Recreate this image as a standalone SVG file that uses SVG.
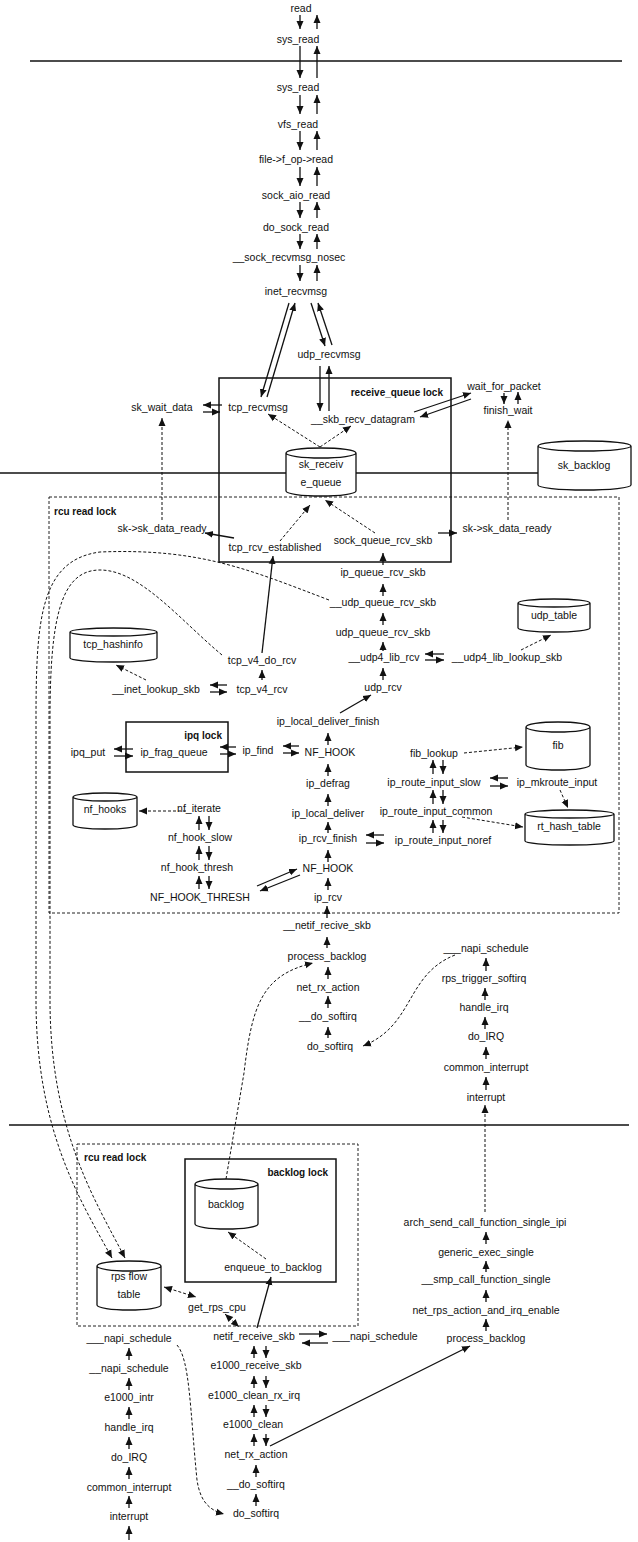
<svg xmlns="http://www.w3.org/2000/svg" width="638" height="1542" viewBox="0 0 638 1542">
<style>
text{font-family:"Liberation Sans",Arial,sans-serif;font-size:10.5px;fill:#111;text-anchor:middle}
.b{font-weight:bold;font-size:10px}
.l{text-anchor:start}.e{text-anchor:end}
.s{stroke:#111;stroke-width:1.3;fill:none}
.a{stroke:#111;stroke-width:1.3;fill:none;marker-end:url(#m)}
.d{stroke:#111;stroke-width:1;fill:none;stroke-dasharray:3,2;marker-end:url(#m)}
.dd{stroke:#111;stroke-width:1;fill:none;stroke-dasharray:3,2;marker-end:url(#m);marker-start:url(#ms)}
.box{fill:none;stroke:#111;stroke-width:1.5}
.dbox{fill:none;stroke:#222;stroke-width:1;stroke-dasharray:3,2}
.cyl{fill:#fff;stroke:#111;stroke-width:1.3}
</style>
<defs>
<marker id="m" markerUnits="userSpaceOnUse" markerWidth="9" markerHeight="8" refX="8" refY="4" orient="auto"><path d="M0,0.5 L8,4 L0,7.5z" fill="#111"/></marker>
<marker id="ms" markerUnits="userSpaceOnUse" markerWidth="9" markerHeight="8" refX="0" refY="4" orient="auto"><path d="M8,0.5 L0,4 L8,7.5z" fill="#111"/></marker>
</defs>
<rect width="638" height="1542" fill="#fff"/>
<g id="frames">
<line x1="30" y1="61" x2="622" y2="61" class="s"/>
<line x1="0" y1="473" x2="538" y2="473" class="s"/>
<line x1="9" y1="1125" x2="629" y2="1125" class="s"/>
<rect id="rcu1" x="49" y="497" width="570" height="416" class="dbox"/>
<text x="54" y="515" class="b l">rcu read lock</text>
<rect id="rcu2" x="77" y="1144" width="281" height="182" class="dbox"/>
<text x="84" y="1161" class="b l">rcu read lock</text>
</g>
<g id="receive_queue_lock"><rect x="219" y="378" width="232" height="184" class="box"/><text x="443" y="396" class="b e">receive_queue lock</text></g>
<g id="ipq_lock"><rect x="126" y="722" width="102" height="50" class="box"/><text x="222" y="739" class="b e">ipq lock</text></g>
<g id="backlog_lock"><rect x="185" y="1159" width="151" height="123" class="box"/><text x="328" y="1176" class="b e">backlog lock</text></g>
<g id="cylinders">
<g id="sk_receive_queue"><path d="M286,453 V491 A35,5 0 0 0 356,491 V453 A35,5 0 0 0 286,453 A35,5 0 0 0 356,453" class="cyl"/><text x="321" y="468">sk_receiv</text><text x="321" y="486">e_queue</text></g>
<g id="sk_backlog"><path d="M538,446 V485 A46.5,5 0 0 0 631,485 V446 A46.5,5 0 0 0 538,446 A46.5,5 0 0 0 631,446" class="cyl"/><text x="584" y="469">sk_backlog</text></g>
<g id="udp_table"><path d="M518,603 V628 A36,4 0 0 0 590,628 V603 A36,4 0 0 0 518,603 A36,4 0 0 0 590,603" class="cyl"/><text x="554" y="619">udp_table</text></g>
<g id="tcp_hashinfo"><path d="M70,632 V658 A43.5,4 0 0 0 157,658 V632 A43.5,4 0 0 0 70,632 A43.5,4 0 0 0 157,632" class="cyl"/><text x="113" y="648">tcp_hashinfo</text></g>
<g id="fib"><path d="M526,727 V765 A32,5 0 0 0 590,765 V727 A32,5 0 0 0 526,727 A32,5 0 0 0 590,727" class="cyl"/><text x="558" y="749">fib</text></g>
<g id="rt_hash_table"><path d="M525,814 V841 A44.5,4 0 0 0 614,841 V814 A44.5,4 0 0 0 525,814 A44.5,4 0 0 0 614,814" class="cyl"/><text x="569" y="830">rt_hash_table</text></g>
<g id="nf_hooks"><path d="M73,797 V825 A32,4 0 0 0 137,825 V797 A32,4 0 0 0 73,797 A32,4 0 0 0 137,797" class="cyl"/><text x="105" y="813">nf_hooks</text></g>
<g id="backlog"><path d="M195,1184 V1224 A31.5,5 0 0 0 258,1224 V1184 A31.5,5 0 0 0 195,1184 A31.5,5 0 0 0 258,1184" class="cyl"/><text x="226" y="1208">backlog</text></g>
<g id="rps_flow_table"><path d="M97,1266 V1305 A32,5 0 0 0 161,1305 V1266 A32,5 0 0 0 97,1266 A32,5 0 0 0 161,1266" class="cyl"/><text x="129" y="1280">rps flow</text><text x="129" y="1298">table</text></g>
</g>
<g id="labels">
<text x="301" y="12">read</text><text x="298" y="43">sys_read</text><text x="298" y="91">sys_read</text><text x="298" y="128">vfs_read</text><text x="296" y="163">file-&gt;f_op-&gt;read</text><text x="296" y="199">sock_aio_read</text><text x="296" y="231">do_sock_read</text><text x="289" y="261">__sock_recvmsg_nosec</text><text x="296" y="295">inet_recvmsg</text>
<text x="329" y="358">udp_recvmsg</text><text x="162" y="411">sk_wait_data</text><text x="258" y="411">tcp_recvmsg</text><text x="363" y="423">__skb_recv_datagram</text><text x="504" y="390">wait_for_packet</text><text x="508" y="414">finish_wait</text>
<text x="162" y="532">sk-&gt;sk_data_ready</text><text x="507" y="532">sk-&gt;sk_data_ready</text><text x="275" y="551">tcp_rcv_established</text><text x="383" y="544">sock_queue_rcv_skb</text>
<text x="383" y="576">ip_queue_rcv_skb</text><text x="383" y="606">__udp_queue_rcv_skb</text><text x="383" y="636">udp_queue_rcv_skb</text><text x="384" y="661">__udp4_lib_rcv</text><text x="507" y="661">__udp4_lib_lookup_skb</text><text x="383" y="691">udp_rcv</text>
<text x="262" y="664">tcp_v4_do_rcv</text><text x="156" y="693">__inet_lookup_skb</text><text x="262" y="693">tcp_v4_rcv</text>
<text x="328" y="725">ip_local_deliver_finish</text><text x="88" y="756">ipq_put</text><text x="174" y="756">ip_frag_queue</text><text x="258" y="754">ip_find</text><text x="330" y="756">NF_HOOK</text>
<text x="434" y="757">fib_lookup</text><text x="434" y="786">ip_route_input_slow</text><text x="557" y="786">ip_mkroute_input</text><text x="436" y="815">ip_route_input_common</text><text x="443" y="844">ip_route_input_noref</text>
<text x="328" y="787">ip_defrag</text><text x="328" y="817">ip_local_deliver</text><text x="328" y="842">ip_rcv_finish</text><text x="328" y="872">NF_HOOK</text><text x="328" y="901">ip_rcv</text>
<text x="199" y="812">nf_iterate</text><text x="200" y="841">nf_hook_slow</text><text x="197" y="871">nf_hook_thresh</text><text x="200" y="901">NF_HOOK_THRESH</text>
<text x="327" y="929">__netif_recive_skb</text><text x="327" y="960">process_backlog</text><text x="328" y="991">net_rx_action</text><text x="328" y="1020">__do_softirq</text><text x="330" y="1050">do_softirq</text>
<text x="486" y="952">___napi_schedule</text><text x="484" y="982">rps_trigger_softirq</text><text x="484" y="1011">handle_irq</text><text x="486" y="1040">do_IRQ</text><text x="486" y="1071">common_interrupt</text><text x="486" y="1101">interrupt</text>
<text x="273" y="1271">enqueue_to_backlog</text><text x="217" y="1311">get_rps_cpu</text>
<text x="485" y="1226">arch_send_call_function_single_ipi</text><text x="486" y="1256">generic_exec_single</text><text x="486" y="1283">__smp_call_function_single</text><text x="486" y="1314">net_rps_action_and_irq_enable</text><text x="486" y="1342">process_backlog</text>
<text x="254" y="1340">netif_receive_skb</text><text x="375" y="1340">___napi_schedule</text><text x="256" y="1369">e1000_receive_skb</text><text x="254" y="1399">e1000_clean_rx_irq</text><text x="253" y="1428">e1000_clean</text><text x="256" y="1458">net_rx_action</text><text x="256" y="1488">__do_softirq</text><text x="256" y="1517">do_softirq</text>
<text x="129" y="1342">___napi_schedule</text><text x="129" y="1372">__napi_schedule</text><text x="129" y="1401">e1000_intr</text><text x="129" y="1431">handle_irq</text><text x="129" y="1461">do_IRQ</text><text x="129" y="1491">common_interrupt</text><text x="129" y="1520">interrupt</text>
</g>
<g id="connectors">
<path class="a" d="M300,15V29"/><path class="a" d="M300,46V78"/><path class="a" d="M300,95V114"/><path class="a" d="M300,131V150"/><path class="a" d="M300,167V186"/><path class="a" d="M300,202V218"/><path class="a" d="M300,234V249"/><path class="a" d="M300,265V281"/>
<path class="a" d="M317,29V15"/><path class="a" d="M317,78V46"/><path class="a" d="M317,114V95"/><path class="a" d="M317,150V131"/><path class="a" d="M317,186V167"/><path class="a" d="M317,218V202"/><path class="a" d="M317,249V234"/><path class="a" d="M317,281V265"/>
<line x1="289" y1="303" x2="261" y2="397" class="a"/><line x1="267" y1="397" x2="295" y2="303" class="a"/>
<line x1="311" y1="303" x2="325" y2="346" class="a"/><line x1="332" y1="345" x2="318" y2="303" class="a"/>
<line x1="320" y1="366" x2="320" y2="411" class="a"/><line x1="329" y1="411" x2="329" y2="366" class="a"/>
<line x1="222" y1="405" x2="203" y2="405" class="a"/><line x1="203" y1="412" x2="220" y2="412" class="a"/>
<line x1="414" y1="412" x2="471" y2="393" class="a"/><line x1="471" y1="399" x2="420" y2="417" class="a"/>
<line x1="504" y1="393" x2="504" y2="404" class="a"/><line x1="518" y1="404" x2="518" y2="392" class="a"/>
<path class="d" d="M320,447L268,414"/><path class="d" d="M320,447L351,426"/><path class="d" d="M280,541L310,505"/><path class="d" d="M375,533L325,500"/><path class="d" d="M162,520V418"/><path class="d" d="M508,520V420"/>
<path class="d" d="M464,753L523,747"/><path class="d" d="M560,790L568,808"/><path class="d" d="M462,817L523,827"/><path class="d" d="M186,811L139,811"/><path class="d" d="M146,680L116,665"/><path class="d" d="M521,650L551,635"/><path class="d" d="M266,1259L228,1232"/><path class="d" d="M485,1212V1105"/>
<line x1="234" y1="538" x2="205" y2="533" class="a"/><line x1="438" y1="533" x2="457" y2="533" class="a"/>
<path class="a" d="M383,565V553"/><path class="a" d="M383,596V584"/><path class="a" d="M383,625V613"/><path class="a" d="M383,651V642"/><path class="a" d="M383,680V668"/><path class="a" d="M262,680V670"/><path class="a" d="M328,745V733"/><path class="a" d="M328,776V764"/><path class="a" d="M328,806V794"/><path class="a" d="M328,833V822"/><path class="a" d="M328,862V850"/><path class="a" d="M328,890V878"/><path class="a" d="M327,918V906"/><path class="a" d="M327,948V937"/><path class="a" d="M328,979V967"/><path class="a" d="M328,1008V996"/><path class="a" d="M328,1038V1027"/>
<path class="a" d="M486,971V958"/><path class="a" d="M485,1000V988"/><path class="a" d="M485,1029V1017"/><path class="a" d="M486,1059V1047"/><path class="a" d="M486,1090V1077"/><path class="a" d="M486,1244V1232"/><path class="a" d="M486,1272V1261"/><path class="a" d="M486,1302V1290"/><path class="a" d="M486,1331V1319"/>
<line x1="262" y1="653" x2="273" y2="556" class="a"/>
<line x1="340" y1="713" x2="371" y2="695" class="a"/>
<line x1="444" y1="654" x2="425" y2="654" class="a"/><line x1="425" y1="660" x2="444" y2="660" class="a"/>
<line x1="227" y1="685" x2="210" y2="685" class="a"/><line x1="210" y1="692" x2="227" y2="692" class="a"/>
<line x1="133" y1="749" x2="114" y2="749" class="a"/><line x1="114" y1="756" x2="133" y2="756" class="a"/>
<line x1="236" y1="747" x2="220" y2="747" class="a"/><line x1="220" y1="754" x2="236" y2="754" class="a"/>
<line x1="299" y1="746" x2="283" y2="746" class="a"/><line x1="283" y1="753" x2="299" y2="753" class="a"/>
<line x1="508" y1="778" x2="490" y2="778" class="a"/><line x1="490" y1="786" x2="508" y2="786" class="a"/>
<line x1="384" y1="835" x2="366" y2="835" class="a"/><line x1="366" y1="843" x2="384" y2="843" class="a"/>
<path class="a" d="M433,774V760"/><path class="a" d="M433,804V790"/><path class="a" d="M433,833V820"/><path class="a" d="M443,760V774"/><path class="a" d="M443,790V804"/><path class="a" d="M443,820V833"/>
<path class="a" d="M199,830V816"/><path class="a" d="M199,860V846"/><path class="a" d="M199,889V876"/><path class="a" d="M209,816V830"/><path class="a" d="M209,846V860"/><path class="a" d="M209,876V889"/>
<line x1="257" y1="886" x2="297" y2="869" class="a"/><line x1="300" y1="875" x2="260" y2="891" class="a"/>
<path class="d" d="M329,600C250,570 200,548 100,552C40,560 36,620 36,720L36,1000C36,1130 80,1200 112,1258"/>
<path class="d" d="M222,655C180,620 140,570 100,570C60,570 50,620 50,720L50,1000C50,1130 95,1200 125,1258"/>
<path class="d" d="M226,1179L244,1073C252,1005 262,975 313,963"/>
<path class="d" d="M455,955C405,975 415,1025 363,1046"/>
<path class="d" d="M177,1345C190,1360 190,1410 197,1480C200,1500 208,1510 224,1514"/>
<line x1="164" y1="1287" x2="196" y2="1297" class="dd"/><line x1="225" y1="1314" x2="239" y2="1327" class="dd"/>
<line x1="257" y1="1328" x2="271" y2="1277" class="a"/>
<line x1="299" y1="1334" x2="327" y2="1334" class="a"/><line x1="328" y1="1343" x2="302" y2="1343" class="a"/>
<path class="a" d="M254,1358V1346"/><path class="a" d="M254,1388V1376"/><path class="a" d="M254,1417V1405"/><path class="a" d="M254,1446V1434"/><path class="a" d="M256,1477V1465"/><path class="a" d="M256,1506V1494"/>
<path class="a" d="M266,1346V1358"/><path class="a" d="M266,1376V1388"/><path class="a" d="M266,1405V1417"/><path class="a" d="M266,1434V1446"/>
<line x1="270" y1="1446" x2="470" y2="1346" class="a"/>
<path class="a" d="M129,1360V1348"/><path class="a" d="M129,1390V1378"/><path class="a" d="M129,1419V1407"/><path class="a" d="M129,1449V1437"/><path class="a" d="M129,1479V1467"/><path class="a" d="M129,1508V1496"/><path class="a" d="M129,1540V1526"/>
</g>
</svg>
